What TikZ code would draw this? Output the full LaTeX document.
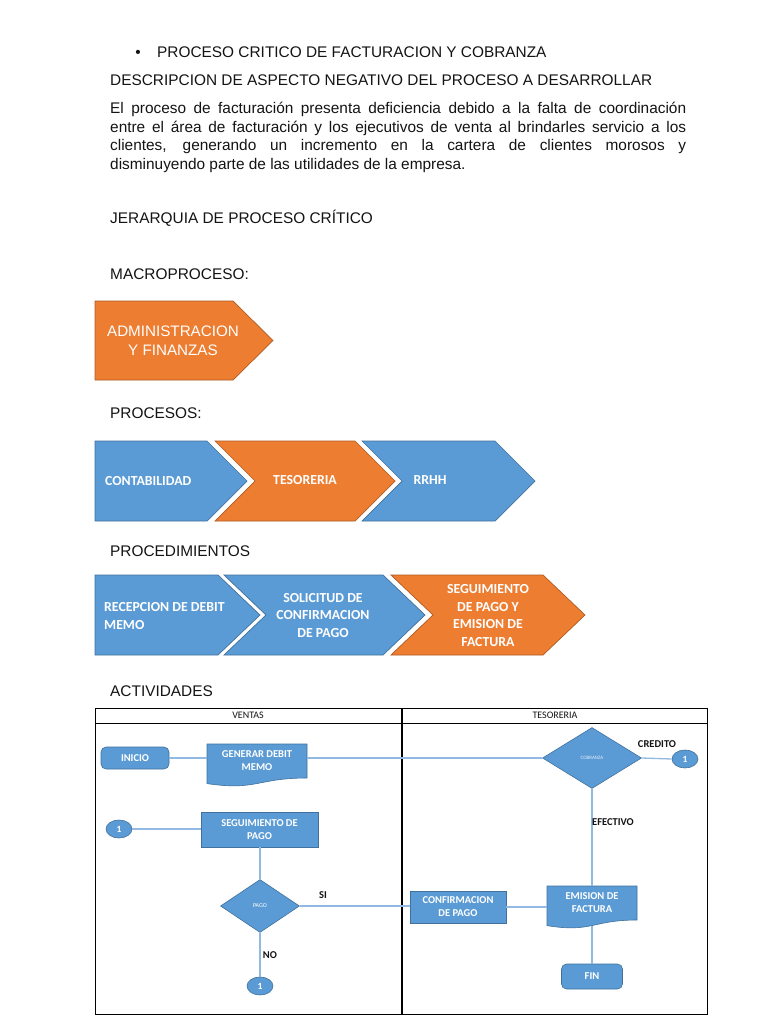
\documentclass[tikz,border=0pt]{standalone}
\usepackage{fontspec}
\setmainfont{Liberation Sans}
\newfontfamily\calfont{Carlito}
\usetikzlibrary{shapes.geometric}
\definecolor{myblue}{HTML}{5B9BD5}
\definecolor{myblueD}{HTML}{41719C}
\definecolor{myorange}{HTML}{ED7D31}
\definecolor{myorangeD}{HTML}{AE5A21}
\definecolor{connc}{RGB}{145,185,225}
\definecolor{txt}{RGB}{20,20,20}
\begin{document}
\begin{tikzpicture}[x=1pt,y=-1pt,
  hd/.style={anchor=base west, inner sep=0, text=txt, font=\fontsize{15.4}{18.6}\selectfont},
  blueshape/.style={fill=myblue, draw=myblueD, line width=0.7pt},
  orangeshape/.style={fill=myorange, draw=myorangeD, line width=0.7pt},
  chevtxt/.style={text=white, font=\calfont\bfseries\fontsize{13.8}{17.6}\selectfont, align=center, inner sep=0},
  fctxt/.style={text=white, font=\calfont\bfseries\fontsize{10.5}{13}\selectfont, align=center, inner sep=0},
  fc/.style={fill=myblue, draw=myblueD, line width=0.6pt, fctxt},
  onec/.style={fc, ellipse, inner sep=0, minimum width=26pt, minimum height=18pt, font=\calfont\bfseries\fontsize{9.5}{10}\selectfont},
  conn/.style={draw=connc, line width=1.3pt},
  lbl/.style={font=\calfont\bfseries\fontsize{10.5}{12}\selectfont, inner sep=0, text=txt},
  tab/.style={draw=black, line width=1pt}
]
\useasboundingbox (0,0) rectangle (768,1024);
\fill[white] (0,0) rectangle (768,1024);

% ---------- text ----------
\node[hd, anchor=base] (bul) at (138,57.5) {•};
\node[hd] (t1) at (157,57.5) {PROCESO CRITICO DE FACTURACION Y COBRANZA};
\node[hd] (t2) at (110,85.5) {DESCRIPCION DE ASPECTO NEGATIVO DEL PROCESO A DESARROLLAR};
\node[hd] (p1) at (110,113.5) {\makebox[576pt][s]{El proceso de facturación presenta deficiencia debido a la falta de coordinación}};
\node[hd] (p2) at (110,132.1) {\makebox[576pt][s]{entre el área de facturación y los ejecutivos de venta al brindarles servicio a los}};
\node[hd] (p3) at (110,150.7) {\makebox[576pt][s]{clientes, generando un incremento en la cartera de clientes morosos y}};
\node[hd] (p4) at (110,169.3) {disminuyendo parte de las utilidades de la empresa.};
\node[hd] (t3) at (110,223.5) {JERARQUIA DE PROCESO CRÍTICO};
\node[hd] (t4) at (110,279.5) {MACROPROCESO:};
\node[hd] (t5) at (110,418.5) {PROCESOS:};
\node[hd] (t6) at (110,556.5) {PROCEDIMIENTOS};
\node[hd] (t7) at (110,696.5) {ACTIVIDADES};

% ---------- macroproceso ----------
\path[orangeshape] (95,301) -- (233,301) -- (273,340.5) -- (233,380) -- (95,380) -- cycle;
\node[text=white, align=center, inner sep=0, font=\fontsize{15.2}{19}\selectfont] (adm) at (173,340.5) {ADMINISTRACION\\Y FINANZAS};

% ---------- procesos ----------
\path[blueshape] (95,441) -- (207,441) -- (247,481) -- (207,521) -- (95,521) -- cycle;
\path[orangeshape] (215,441) -- (355,441) -- (395,481) -- (355,521) -- (215,521) -- (255,481) -- cycle;
\path[blueshape] (362,441) -- (495,441) -- (535,481) -- (495,521) -- (362,521) -- (402,481) -- cycle;
\node[chevtxt, anchor=west] (cont) at (105,481) {CONTABILIDAD};
\node[chevtxt] (teso) at (305,480) {TESORERIA};
\node[chevtxt] (rrhh) at (430,480) {RRHH};

% ---------- procedimientos ----------
\path[blueshape] (95,575) -- (218,575) -- (260,615) -- (218,655) -- (95,655) -- cycle;
\path[blueshape] (224,575) -- (383,575) -- (425,615) -- (383,655) -- (224,655) -- (266,615) -- cycle;
\path[orangeshape] (391,575) -- (543,575) -- (585,615) -- (543,655) -- (391,655) -- (433,615) -- cycle;
\node[chevtxt, align=left, anchor=west] (rec) at (104,616) {RECEPCION DE DEBIT\\MEMO};
\node[chevtxt] (sol) at (323,615.5) {SOLICITUD DE\\CONFIRMACION\\DE PAGO};
\node[chevtxt] (segp) at (488,615.5) {SEGUIMIENTO\\DE PAGO Y\\EMISION DE\\FACTURA};

% ---------- table ----------
\draw[tab] (95,708) rectangle (707,1014);
\draw[tab] (95,723) -- (707,723);
\draw[draw=black, line width=1.7pt] (402,708) -- (402,1014);
\node[lbl, font=\calfont\fontsize{10}{12}\selectfont] (hv) at (248,715.5) {VENTAS};
\node[lbl, font=\calfont\fontsize{10}{12}\selectfont] (ht) at (555,715.5) {TESORERIA};

% ---------- flowchart shapes ----------
\node[fc, rounded corners=5pt, minimum width=68pt, minimum height=22pt] (inicio) at (135,758) {INICIO};
\path[blueshape, line width=0.6pt] (207,744) -- (307,744) -- (307,778) .. controls (257,778) and (257,790.9) .. (207,783.6) -- cycle;
\node[fctxt, minimum width=100pt, minimum height=34pt] (generar) at (257,761) {GENERAR DEBIT\\MEMO};
\node[fc, diamond, minimum width=99pt, minimum height=61pt, font=\calfont\fontsize{5}{6}\selectfont, text=white!85!myblue] (cobranza) at (592,758) {COBRANZA};
\node[onec] (c1) at (685,759) {1};
\node[onec] (c2) at (119,829) {1};
\node[fc, minimum width=117pt, minimum height=35pt] (seg) at (259.5,829.5) {SEGUIMIENTO DE\\PAGO};
\node[fc, diamond, minimum width=79pt, minimum height=53pt, font=\calfont\fontsize{6}{7}\selectfont] (pago) at (260,906) {PAGO};
\node[onec] (c3) at (260,986) {1};
\node[fc, minimum width=96pt, minimum height=32pt] (confirm) at (458,907) {CONFIRMACION\\DE PAGO};
\path[blueshape, line width=0.6pt] (547,886) -- (637,886) -- (637,920) .. controls (592,920) and (592,932.9) .. (547,925.6) -- cycle;
\node[fctxt, minimum width=90pt, minimum height=34pt] (emision) at (592,903) {EMISION DE\\FACTURA};
\coordinate (emisionbot) at (592,925.6);
\node[fc, rounded corners=5pt, minimum width=61pt, minimum height=25pt] (fin) at (592,976.5) {FIN};

% ---------- connectors ----------
\draw[conn] (inicio.east) -- (inicio.east -| generar.west);
\draw[conn] (generar.east |- cobranza.west) -- (cobranza.west);
\draw[conn] (cobranza.east) -- (c1.west);
\draw[conn] (cobranza.south) -- (emision.north);
\draw[conn] (c2.east) -- (c2.east -| seg.west);
\draw[conn] (seg.south -| pago.north) -- (pago.north);
\draw[conn] (pago.east) -- (pago.east -| confirm.west);
\draw[conn] (pago.south) -- (c3.north);
\draw[conn] (confirm.east) -- (confirm.east -| emision.west);
\draw[conn] (emisionbot) -- (fin.north);

% ---------- labels ----------
\node[lbl] (lcred) at (657,744) {CREDITO};
\node[lbl] (lefec) at (613,822) {EFECTIVO};
\node[lbl] (lsi) at (323,895) {SI};
\node[lbl] (lno) at (270,955) {NO};
\end{tikzpicture}
\end{document}
